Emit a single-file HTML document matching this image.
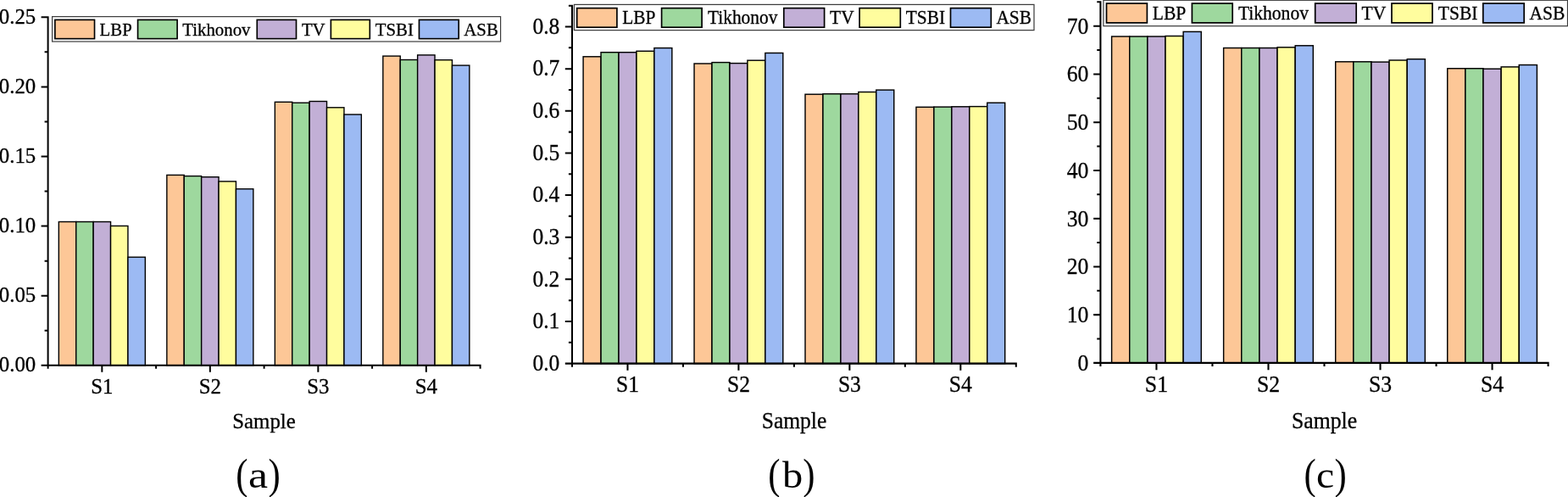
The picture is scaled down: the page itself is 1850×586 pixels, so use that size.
<!DOCTYPE html>
<html lang="en"><head><meta charset="utf-8"><title>Bar charts</title>
<style>
html,body{margin:0;padding:0;background:#fff;}
body{width:1850px;height:586px;overflow:hidden;}
svg{display:block;}
text{font-family:"Liberation Serif", "DejaVu Serif", serif;fill:#000;stroke:#000;stroke-width:0.3px;}
.ax{stroke:#000;fill:none;stroke-linecap:butt;}
.bar{stroke:#000;stroke-linejoin:miter;}
text.cap{stroke:none;}
</style></head><body>
<svg width="1850" height="586" viewBox="0 0 1850 586">
<rect x="0" y="0" width="1850" height="586" fill="#fff"/>
<g id="chart-a">
<g class="bar" stroke-width="1.4">
<rect x="69.35" y="261.5" width="20.4" height="169.3" fill="#FDC797"/>
<rect x="89.75" y="261.5" width="20.4" height="169.3" fill="#9ED89E"/>
<rect x="110.15" y="261.5" width="20.4" height="169.3" fill="#C2AFD6"/>
<rect x="130.55" y="266.4" width="20.4" height="164.4" fill="#FFFD9E"/>
<rect x="150.95" y="303.2" width="20.4" height="127.6" fill="#9CBAF3"/>
<rect x="196.85" y="206.4" width="20.4" height="224.4" fill="#FDC797"/>
<rect x="217.25" y="207.6" width="20.4" height="223.2" fill="#9ED89E"/>
<rect x="237.65" y="208.7" width="20.4" height="222.1" fill="#C2AFD6"/>
<rect x="258.05" y="213.9" width="20.4" height="216.9" fill="#FFFD9E"/>
<rect x="278.45" y="222.8" width="20.4" height="208" fill="#9CBAF3"/>
<rect x="324.35" y="120.3" width="20.4" height="310.5" fill="#FDC797"/>
<rect x="344.75" y="121.2" width="20.4" height="309.6" fill="#9ED89E"/>
<rect x="365.15" y="119.5" width="20.4" height="311.3" fill="#C2AFD6"/>
<rect x="385.55" y="126.8" width="20.4" height="304" fill="#FFFD9E"/>
<rect x="405.95" y="135" width="20.4" height="295.8" fill="#9CBAF3"/>
<rect x="451.85" y="66.1" width="20.4" height="364.7" fill="#FDC797"/>
<rect x="472.25" y="70.5" width="20.4" height="360.3" fill="#9ED89E"/>
<rect x="492.65" y="64.9" width="20.4" height="365.9" fill="#C2AFD6"/>
<rect x="513.05" y="70.7" width="20.4" height="360.1" fill="#FFFD9E"/>
<rect x="533.45" y="77.1" width="20.4" height="353.7" fill="#9CBAF3"/>
</g>
<path class="ax" stroke-width="2" d="M56.6 19.3 V431.8 M55.6 430.8 H567.6 M48.6 430.8 H56.6 M48.6 348.7 H56.6 M48.6 266.6 H56.6 M48.6 184.5 H56.6 M48.6 102.4 H56.6 M48.6 20.3 H56.6 M52.6 389.75 H56.6 M52.6 307.65 H56.6 M52.6 225.55 H56.6 M52.6 143.45 H56.6 M52.6 61.35 H56.6 M120.35 430.8 V438.8 M247.85 430.8 V438.8 M375.35 430.8 V438.8 M502.85 430.8 V438.8 M56.6 430.8 V434.8 M184.1 430.8 V434.8 M311.6 430.8 V434.8 M439.1 430.8 V434.8 M566.6 430.8 V434.8"/>
<g font-size="25.9" text-anchor="end">
<text transform="translate(42.3 438.3) scale(0.96 1)">0.00</text>
<text transform="translate(42.3 356.2) scale(0.96 1)">0.05</text>
<text transform="translate(42.3 274.1) scale(0.96 1)">0.10</text>
<text transform="translate(42.3 192) scale(0.96 1)">0.15</text>
<text transform="translate(42.3 109.9) scale(0.96 1)">0.20</text>
<text transform="translate(42.3 27.8) scale(0.96 1)">0.25</text>
</g>
<g font-size="25.9" text-anchor="middle">
<text transform="translate(120.35 463.6) scale(0.96 1)">S1</text>
<text transform="translate(247.85 463.6) scale(0.96 1)">S2</text>
<text transform="translate(375.35 463.6) scale(0.96 1)">S3</text>
<text transform="translate(502.85 463.6) scale(0.96 1)">S4</text>
<text transform="translate(311.5 505.2) scale(0.96 1)">Sample</text>
</g>
<rect x="61.6" y="19.6" width="529" height="29.4" fill="#fff" stroke="#3c3c3c" stroke-width="1.2"/>
<g class="bar" stroke-width="1.65">
<rect x="64.88" y="23.38" width="46.65" height="22.25" fill="#FDC797"/>
<rect x="162.57" y="23.38" width="46.55" height="22.25" fill="#9ED89E"/>
<rect x="303.27" y="23.38" width="46.25" height="22.25" fill="#C2AFD6"/>
<rect x="390.38" y="23.38" width="45.95" height="22.25" fill="#FFFD9E"/>
<rect x="494.48" y="23.38" width="46.75" height="22.25" fill="#9CBAF3"/>
</g>
<g font-size="21.7">
<text transform="translate(117.6 41.6) scale(0.96 1)">LBP</text>
<text transform="translate(215.2 41.6) scale(0.96 1)">Tikhonov</text>
<text transform="translate(355.9 41.6) scale(0.96 1)">TV</text>
<text transform="translate(442.7 41.6) scale(0.96 1)">TSBI</text>
<text transform="translate(547.3 41.6) scale(0.96 1)">ASB</text>
</g>
<text class="cap" y="575.2" font-size="50.7"><tspan x="278.2" y="575.9" textLength="14.25" lengthAdjust="spacingAndGlyphs">(</tspan><tspan x="293.1" y="575.4" font-size="43.8" textLength="23.04" lengthAdjust="spacingAndGlyphs">a</tspan><tspan x="316.4" y="575.9" textLength="14.25" lengthAdjust="spacingAndGlyphs">)</tspan></text>
</g>
<g id="chart-b">
<g class="bar" stroke-width="1.44">
<rect x="688.1" y="66.8" width="20.95" height="361.8" fill="#FDC797"/>
<rect x="709.05" y="61.7" width="20.95" height="366.9" fill="#9ED89E"/>
<rect x="730" y="61.7" width="20.95" height="366.9" fill="#C2AFD6"/>
<rect x="750.95" y="60.3" width="20.95" height="368.3" fill="#FFFD9E"/>
<rect x="771.9" y="56.6" width="20.95" height="372" fill="#9CBAF3"/>
<rect x="819.04" y="75" width="20.95" height="353.6" fill="#FDC797"/>
<rect x="840" y="73.6" width="20.95" height="355" fill="#9ED89E"/>
<rect x="860.95" y="74.6" width="20.95" height="354" fill="#C2AFD6"/>
<rect x="881.9" y="71.2" width="20.95" height="357.4" fill="#FFFD9E"/>
<rect x="902.85" y="62.5" width="20.95" height="366.1" fill="#9CBAF3"/>
<rect x="950" y="111.2" width="20.95" height="317.4" fill="#FDC797"/>
<rect x="970.95" y="110.7" width="20.95" height="317.9" fill="#9ED89E"/>
<rect x="991.9" y="110.7" width="20.95" height="317.9" fill="#C2AFD6"/>
<rect x="1012.85" y="108.5" width="20.95" height="320.1" fill="#FFFD9E"/>
<rect x="1033.8" y="106.1" width="20.95" height="322.5" fill="#9CBAF3"/>
<rect x="1080.94" y="126.3" width="20.95" height="302.3" fill="#FDC797"/>
<rect x="1101.9" y="126.1" width="20.95" height="302.5" fill="#9ED89E"/>
<rect x="1122.85" y="125.8" width="20.95" height="302.8" fill="#C2AFD6"/>
<rect x="1143.8" y="125.6" width="20.95" height="303" fill="#FFFD9E"/>
<rect x="1164.75" y="121.2" width="20.95" height="307.4" fill="#9CBAF3"/>
</g>
<path class="ax" stroke-width="2.05" d="M675 5.67 V429.63 M673.97 428.6 H1199.83 M666.79 428.6 H675 M666.79 378.96 H675 M666.79 329.33 H675 M666.79 279.69 H675 M666.79 230.06 H675 M666.79 180.42 H675 M666.79 130.79 H675 M666.79 81.15 H675 M666.79 31.52 H675 M670.89 403.78 H675 M670.89 354.15 H675 M670.89 304.51 H675 M670.89 254.88 H675 M670.89 205.24 H675 M670.89 155.61 H675 M670.89 105.97 H675 M670.89 56.34 H675 M670.89 6.7 H675 M740.48 428.6 V436.81 M871.42 428.6 V436.81 M1002.38 428.6 V436.81 M1133.32 428.6 V436.81 M675 428.6 V432.71 M805.95 428.6 V432.71 M936.9 428.6 V432.71 M1067.85 428.6 V432.71 M1198.8 428.6 V432.71"/>
<g font-size="26.59" text-anchor="end">
<text transform="translate(660.3 436.8) scale(0.96 1)">0.0</text>
<text transform="translate(660.3 387.16) scale(0.96 1)">0.1</text>
<text transform="translate(660.3 337.53) scale(0.96 1)">0.2</text>
<text transform="translate(660.3 287.89) scale(0.96 1)">0.3</text>
<text transform="translate(660.3 238.26) scale(0.96 1)">0.4</text>
<text transform="translate(660.3 188.62) scale(0.96 1)">0.5</text>
<text transform="translate(660.3 138.99) scale(0.96 1)">0.6</text>
<text transform="translate(660.3 89.35) scale(0.96 1)">0.7</text>
<text transform="translate(660.3 39.72) scale(0.96 1)">0.8</text>
</g>
<g font-size="26.59" text-anchor="middle">
<text transform="translate(740.48 462) scale(0.96 1)">S1</text>
<text transform="translate(871.42 462) scale(0.96 1)">S2</text>
<text transform="translate(1002.38 462) scale(0.96 1)">S3</text>
<text transform="translate(1133.32 462) scale(0.96 1)">S4</text>
<text transform="translate(937 505.2) scale(0.96 1)">Sample</text>
</g>
<rect x="677.4" y="5.4" width="542.6" height="30.2" fill="#fff" stroke="#3c3c3c" stroke-width="1.23"/>
<g class="bar" stroke-width="1.69">
<rect x="680.7" y="9.6" width="47.21" height="22.61" fill="#FDC797"/>
<rect x="780.6" y="9.6" width="47.51" height="22.61" fill="#9ED89E"/>
<rect x="924.8" y="9.6" width="47.81" height="22.61" fill="#C2AFD6"/>
<rect x="1014.1" y="9.6" width="48.21" height="22.61" fill="#FFFD9E"/>
<rect x="1121.5" y="9.6" width="47.81" height="22.61" fill="#9CBAF3"/>
</g>
<g font-size="22.28">
<text transform="translate(734.3 27.6) scale(0.96 1)">LBP</text>
<text transform="translate(835 27.6) scale(0.96 1)">Tikhonov</text>
<text transform="translate(979.1 27.6) scale(0.96 1)">TV</text>
<text transform="translate(1068.7 27.6) scale(0.96 1)">TSBI</text>
<text transform="translate(1175.4 27.6) scale(0.96 1)">ASB</text>
</g>
<text class="cap" y="575.2" font-size="50.7"><tspan x="906.2" y="575.9" textLength="14.25" lengthAdjust="spacingAndGlyphs">(</tspan><tspan x="923" y="575.4" font-size="43.4" textLength="24.2" lengthAdjust="spacingAndGlyphs">b</tspan><tspan x="947.3" y="575.9" textLength="14.25" lengthAdjust="spacingAndGlyphs">)</tspan></text>
</g>
<g id="chart-c">
<g class="bar" stroke-width="1.45">
<rect x="1311.61" y="43" width="21.13" height="384.9" fill="#FDC797"/>
<rect x="1332.73" y="43" width="21.13" height="384.9" fill="#9ED89E"/>
<rect x="1353.86" y="43" width="21.13" height="384.9" fill="#C2AFD6"/>
<rect x="1374.99" y="42.5" width="21.13" height="385.4" fill="#FFFD9E"/>
<rect x="1396.12" y="37.4" width="21.13" height="390.5" fill="#9CBAF3"/>
<rect x="1443.65" y="56.55" width="21.13" height="371.35" fill="#FDC797"/>
<rect x="1464.78" y="56.55" width="21.13" height="371.35" fill="#9ED89E"/>
<rect x="1485.91" y="56.55" width="21.13" height="371.35" fill="#C2AFD6"/>
<rect x="1507.04" y="55.8" width="21.13" height="372.1" fill="#FFFD9E"/>
<rect x="1528.17" y="53.8" width="21.13" height="374.1" fill="#9CBAF3"/>
<rect x="1575.71" y="72.8" width="21.13" height="355.1" fill="#FDC797"/>
<rect x="1596.83" y="72.8" width="21.13" height="355.1" fill="#9ED89E"/>
<rect x="1617.96" y="73.1" width="21.13" height="354.8" fill="#C2AFD6"/>
<rect x="1639.09" y="71" width="21.13" height="356.9" fill="#FFFD9E"/>
<rect x="1660.22" y="69.7" width="21.13" height="358.2" fill="#9CBAF3"/>
<rect x="1707.75" y="80.75" width="21.13" height="347.15" fill="#FDC797"/>
<rect x="1728.88" y="80.75" width="21.13" height="347.15" fill="#9ED89E"/>
<rect x="1750.01" y="81.2" width="21.13" height="346.7" fill="#C2AFD6"/>
<rect x="1771.14" y="78.9" width="21.13" height="349" fill="#FFFD9E"/>
<rect x="1792.27" y="76.55" width="21.13" height="351.35" fill="#9CBAF3"/>
</g>
<path class="ax" stroke-width="2.07" d="M1298.4 1.26 V428.94 M1297.37 427.9 H1827.63 M1290.12 427.9 H1298.4 M1290.12 371.15 H1298.4 M1290.12 314.41 H1298.4 M1290.12 257.66 H1298.4 M1290.12 200.91 H1298.4 M1290.12 144.17 H1298.4 M1290.12 87.42 H1298.4 M1290.12 30.67 H1298.4 M1294.26 399.53 H1298.4 M1294.26 342.78 H1298.4 M1294.26 286.03 H1298.4 M1294.26 229.29 H1298.4 M1294.26 172.54 H1298.4 M1294.26 115.79 H1298.4 M1294.26 59.05 H1298.4 M1294.26 2.3 H1298.4 M1364.43 427.9 V436.18 M1496.47 427.9 V436.18 M1628.53 427.9 V436.18 M1760.57 427.9 V436.18 M1298.4 427.9 V432.04 M1430.45 427.9 V432.04 M1562.5 427.9 V432.04 M1694.55 427.9 V432.04 M1826.6 427.9 V432.04"/>
<g font-size="26.81" text-anchor="end">
<text transform="translate(1284.4 436.8) scale(0.96 1)">0</text>
<text transform="translate(1284.4 380.05) scale(0.96 1)">10</text>
<text transform="translate(1284.4 323.31) scale(0.96 1)">20</text>
<text transform="translate(1284.4 266.56) scale(0.96 1)">30</text>
<text transform="translate(1284.4 209.81) scale(0.96 1)">40</text>
<text transform="translate(1284.4 153.07) scale(0.96 1)">50</text>
<text transform="translate(1284.4 96.32) scale(0.96 1)">60</text>
<text transform="translate(1284.4 39.57) scale(0.96 1)">70</text>
</g>
<g font-size="26.81" text-anchor="middle">
<text transform="translate(1364.43 461.9) scale(0.96 1)">S1</text>
<text transform="translate(1496.47 461.9) scale(0.96 1)">S2</text>
<text transform="translate(1628.53 461.9) scale(0.96 1)">S3</text>
<text transform="translate(1760.57 461.9) scale(0.96 1)">S4</text>
<text transform="translate(1562.5 505.2) scale(0.96 1)">Sample</text>
</g>
<rect x="1301.9" y="0.3" width="547.6" height="30.4" fill="#fff" stroke="#3c3c3c" stroke-width="1.24"/>
<g class="bar" stroke-width="1.71">
<rect x="1305.5" y="4" width="47.89" height="22.89" fill="#FDC797"/>
<rect x="1406.4" y="4" width="47.79" height="22.89" fill="#9ED89E"/>
<rect x="1551.7" y="4" width="48.49" height="22.89" fill="#C2AFD6"/>
<rect x="1642" y="4" width="47.99" height="22.89" fill="#FFFD9E"/>
<rect x="1749.8" y="4" width="48.39" height="22.89" fill="#9CBAF3"/>
</g>
<g font-size="22.46">
<text transform="translate(1359.8 22.5) scale(0.96 1)">LBP</text>
<text transform="translate(1460.9 22.5) scale(0.96 1)">Tikhonov</text>
<text transform="translate(1606.5 22.5) scale(0.96 1)">TV</text>
<text transform="translate(1696.8 22.5) scale(0.96 1)">TSBI</text>
<text transform="translate(1804.5 22.5) scale(0.96 1)">ASB</text>
</g>
<text class="cap" y="575.2" font-size="50.7"><tspan x="1538.6" y="575.9" textLength="14.25" lengthAdjust="spacingAndGlyphs">(</tspan><tspan x="1553.1" y="575.4" font-size="43.3" textLength="21.15" lengthAdjust="spacingAndGlyphs">c</tspan><tspan x="1574.5" y="575.9" textLength="14.25" lengthAdjust="spacingAndGlyphs">)</tspan></text>
</g>
</svg>
</body></html>
